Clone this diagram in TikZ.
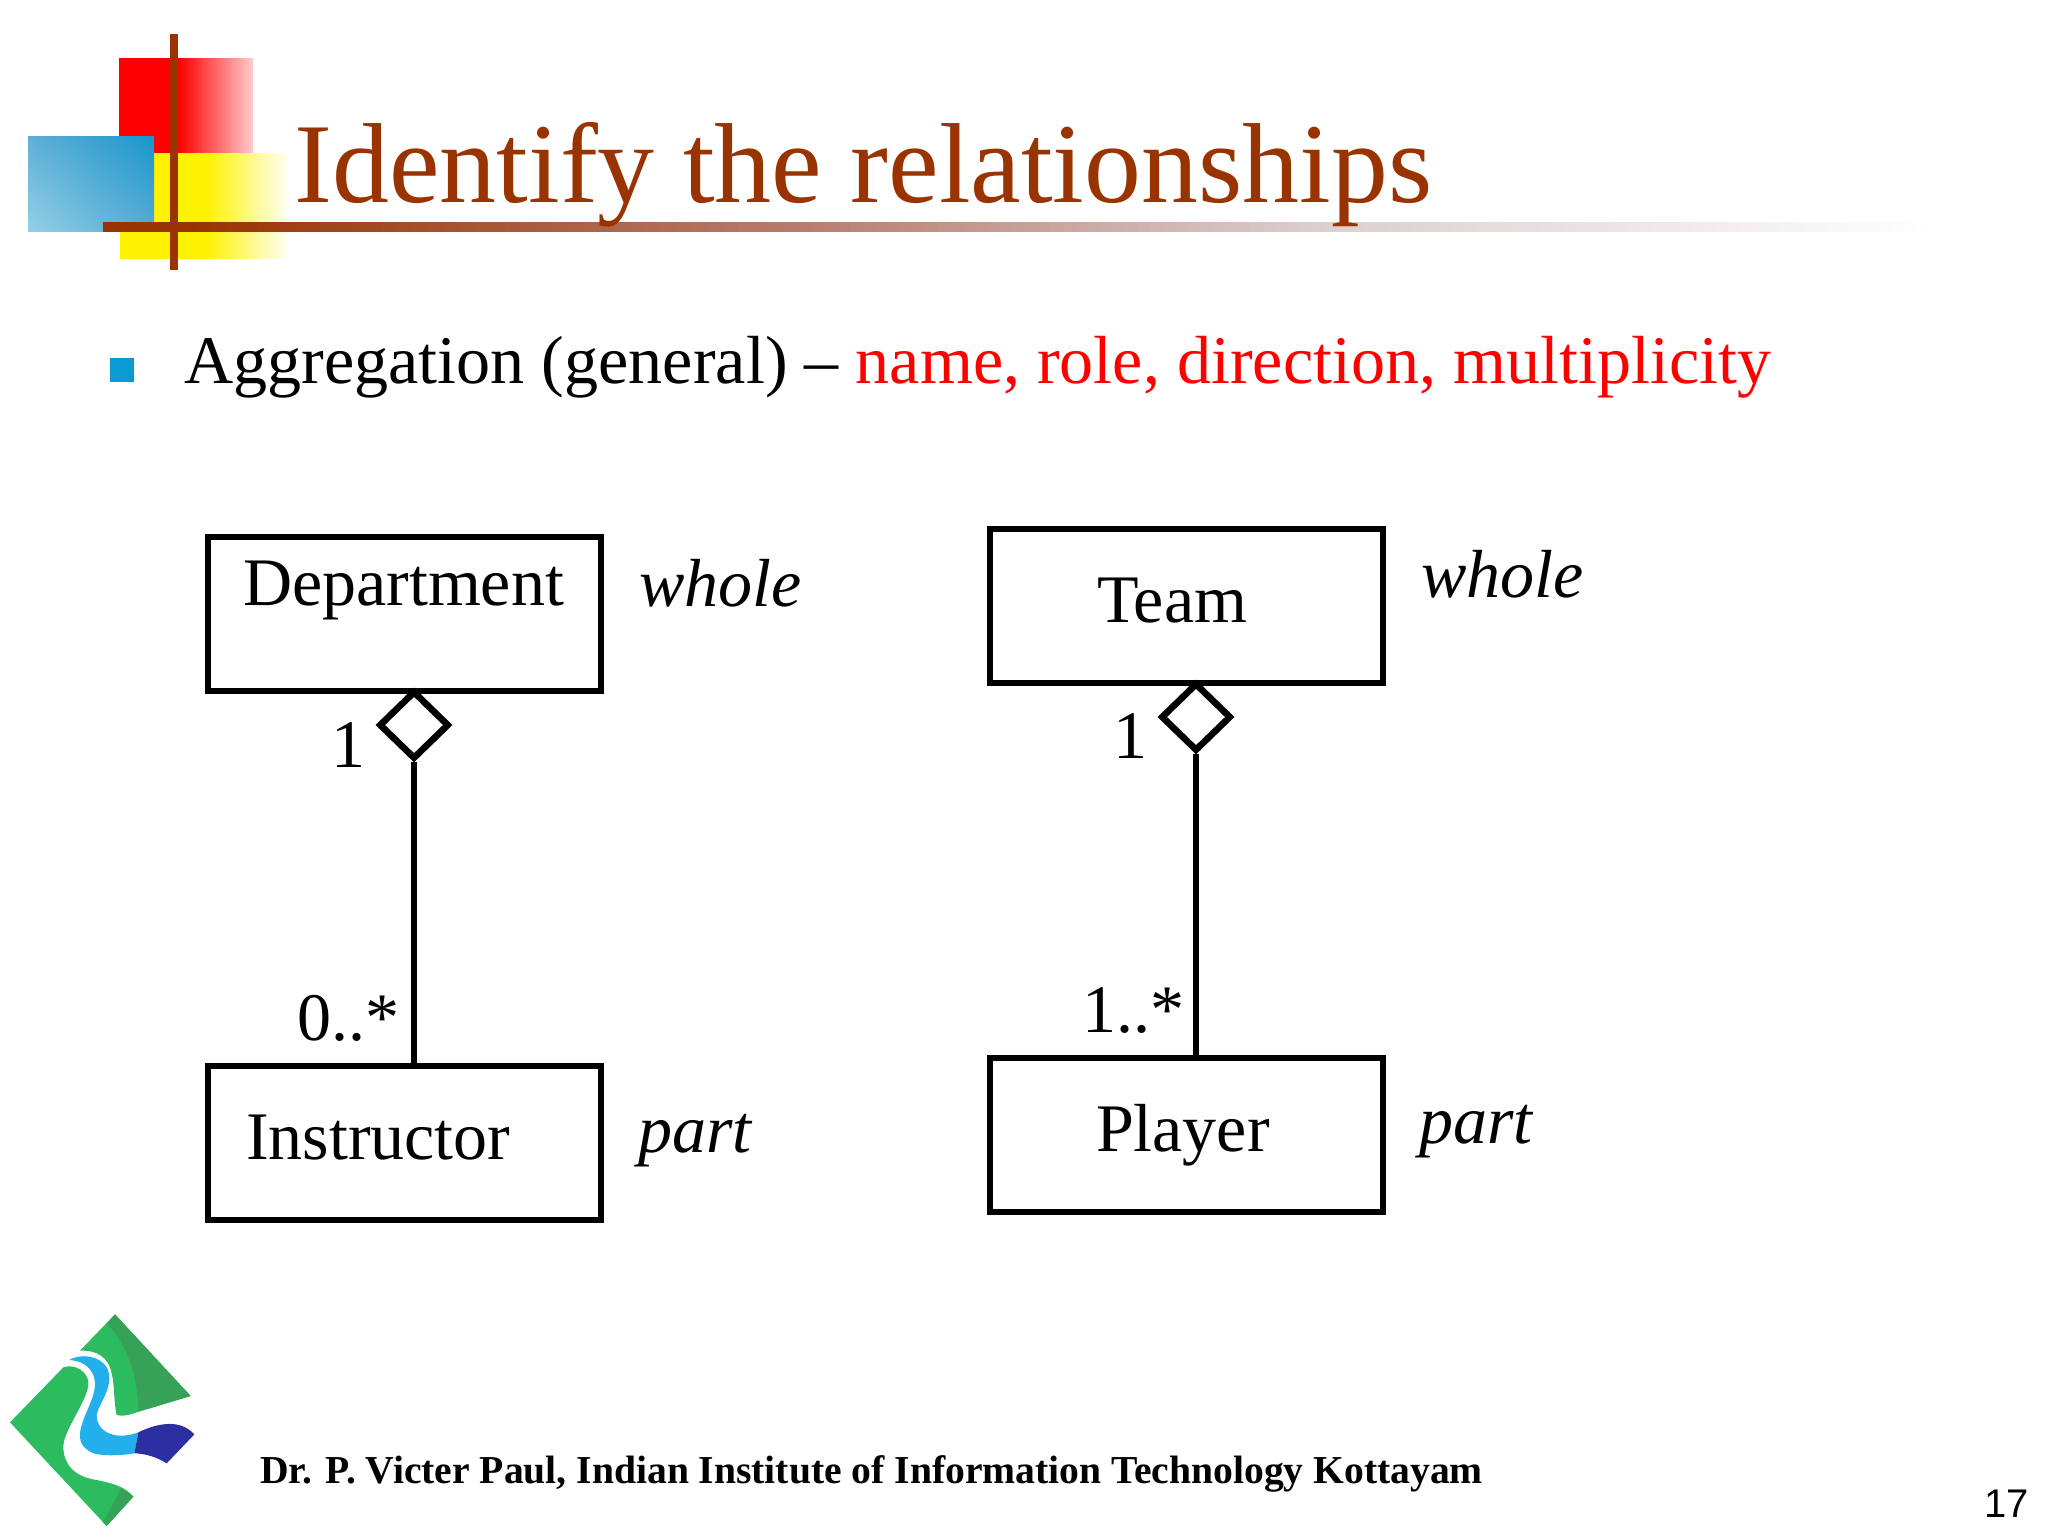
\documentclass[tikz,border=0pt]{standalone}
\usepackage{fontspec}
\setmainfont{Liberation Serif}
\newfontfamily\numfont{Liberation Sans}
\usetikzlibrary{shapes.geometric,shadings}
\definecolor{rust}{HTML}{993300}
\definecolor{pinkend}{RGB}{255,205,205}
\definecolor{rampa}{RGB}{185,125,110}
\definecolor{rampb}{RGB}{218,205,205}
\definecolor{bulletblue}{RGB}{10,155,210}
\definecolor{lgreen}{RGB}{45,187,96}
\definecolor{dgreen}{RGB}{53,162,87}
\definecolor{lblue}{RGB}{35,175,235}
\definecolor{dblue}{RGB}{43,47,159}
\definecolor{bll}{RGB}{147,208,230}
\definecolor{bur}{RGB}{24,150,204}
\definecolor{bul}{RGB}{95,175,215}
\definecolor{blr}{RGB}{85,170,212}
\tikzset{x=0.5pt,y=-0.5pt,
  umlbox/.style={draw=black,line width=3.3pt,rectangle,fill=none,minimum width=196.5pt,minimum height=77pt,inner sep=0pt,anchor=north west,outer sep=0pt},
  hollow/.style={draw=black,line width=3.3pt,diamond,inner sep=0pt,minimum width=35pt,minimum height=34pt,aspect=1,outer sep=1.5pt},
  txt/.style={anchor=base west,inner sep=0pt,outer sep=0pt,text=black},
  cls/.style={txt,font=\fontsize{34}{34}\selectfont},
  role/.style={txt,font=\fontsize{34}{34}\selectfont\itshape},
  mult/.style={txt,font=\fontsize{34}{34}\selectfont},
  link/.style={draw=black,line width=3.3pt}
}
\begin{document}
\begin{tikzpicture}
\useasboundingbox (0,0) rectangle (2048,1536);
\fill[white] (0,0) rectangle (2048,1536);
% corner decoration
\fill[red] (119,58) rectangle (253,153);
\foreach \i in {0,...,40}{
  \pgfmathsetmacro\xa{178+\i*1.875}
  \pgfmathsetmacro\pc{\i*2.5}
  \fill[pinkend!\pc!red] (\xa,58) rectangle (253,153);
}
\fill[yellow] (120,153) rectangle (290,259);
\foreach \i in {0,...,40}{
  \pgfmathsetmacro\xa{205+\i*2.125}
  \pgfmathsetmacro\pc{100-\i*2.5}
  \fill[yellow!\pc!white] (\xa,153) rectangle (290,259);
}
\shade[lower left=bll,upper right=bur,upper left=bul,lower right=blr] (28,136) rectangle (154,231);
\fill[rust] (170,34) rectangle (178,270);
\fill[rust] (103,222) rectangle (1930,232);
\foreach \i in {0,...,40}{
  \pgfmathsetmacro\xa{180+\i*15.5}
  \pgfmathsetmacro\pc{\i*2.5}
  \fill[rampa!\pc!rust] (\xa,222) rectangle (1930,232);
}
\foreach \i in {0,...,40}{
  \pgfmathsetmacro\xa{800+\i*12.5}
  \pgfmathsetmacro\pc{\i*2.5}
  \fill[rampb!\pc!rampa] (\xa,222) rectangle (1930,232);
}
\foreach \i in {0,...,50}{
  \pgfmathsetmacro\xa{1300+\i*12.6}
  \pgfmathsetmacro\pc{\i*2}
  \fill[white!\pc!rampb] (\xa,222) rectangle (1930,232);
}
% heading
\node[txt,text=rust,font=\fontsize{56.9}{56.9}\selectfont] (title) at (294.5,202) {Identify the relationships};
\node[fill=bulletblue,minimum width=12pt,minimum height=12pt,inner sep=0pt,anchor=north west] (bullet) at (110,358) {};
\node[txt,font=\fontsize{34.05}{34.05}\selectfont] (points) at (184.5,383) {Aggregation (general) -- \textcolor{red}{name, role, direction, multiplicity}};
% boxes
\node[umlbox] (dept) at (208,537) {};
\node[umlbox] (inst) at (208,1066) {};
\node[umlbox] (team) at (990,529) {};
\node[umlbox] (play) at (990,1058) {};
\node[hollow] (d1) at (414,725) {};
\node[hollow] (d2) at (1196,717) {};
\draw[link] (d1.south) -- (d1.south |- inst.north);
\draw[link] (d2.south) -- (d2.south |- play.north);
% labels
\node[cls] (deptt) at (243,605) {Department};
\node[cls] (instt) at (246,1159) {Instructor};
\node[cls] (teamt) at (1097,622) {Team};
\node[cls] (playt) at (1096,1151) {Player};
\node[role] (w1) at (639,606) {whole};
\node[role] (w2) at (1421,597) {whole};
\node[role] (p1) at (638,1152) {part};
\node[role] (p2) at (1419,1143) {part};
\node[mult] (m1) at (331,767) {1};
\node[mult] (m2) at (1113,758) {1};
\node[mult] (m3) at (297,1040) {0..*};
\node[mult] (m4) at (1082,1032) {1..*};
% logo
\begin{scope}[shift={(0,1300)},x=0.16667pt,y=-0.16667pt]
\fill[lgreen] (240,152) -- (345,43) -- (572,288) -- (415,335) .. controls (390,345) and (365,350) .. (350,345) .. controls (340,300) and (345,260) .. (335,220) .. controls (325,170) and (290,150) .. (240,152) -- cycle;
\fill[dgreen] (320,70) -- (345,43) -- (572,288) -- (415,335) .. controls (415,230) and (380,130) .. (320,70) -- cycle;
\fill[lgreen] (30,367) -- (190,202) .. controls (225,190) and (265,215) .. (265,250) .. controls (265,300) and (190,390) .. (190,440) .. controls (190,490) and (220,530) .. (290,540) .. controls (340,550) and (375,560) .. (400,590) -- (320,678) -- cycle;
\fill[dgreen] (400,590) .. controls (390,578) and (375,570) .. (362,565) .. controls (345,600) and (325,640) .. (308,665) -- (320,678) -- cycle;
\fill[lblue] (207,180) .. controls (240,160) and (300,165) .. (322,205) .. controls (345,260) and (295,310) .. (290,345) .. controls (288,390) and (340,425) .. (415,397) -- (403,460) .. controls (370,465) and (320,470) .. (280,460) .. controls (250,445) and (238,430) .. (240,400) .. controls (245,350) and (285,300) .. (285,250) .. controls (283,210) and (255,182) .. (207,180) -- cycle;
\fill[dblue] (415,397) .. controls (470,370) and (540,355) .. (583,403) -- (500,490) .. controls (470,470) and (430,460) .. (403,460) -- cycle;
\end{scope}
% footer
\node[txt,font=\fontsize{19.8}{19.8}\selectfont\bfseries] (foot) at (260,1483) {Dr. P. Victer Paul, Indian Institute of Information Technology Kottayam};
\node[txt,font=\fontsize{20}{20}\selectfont\numfont] (num) at (1984,1517) {17};
\end{tikzpicture}
\end{document}
